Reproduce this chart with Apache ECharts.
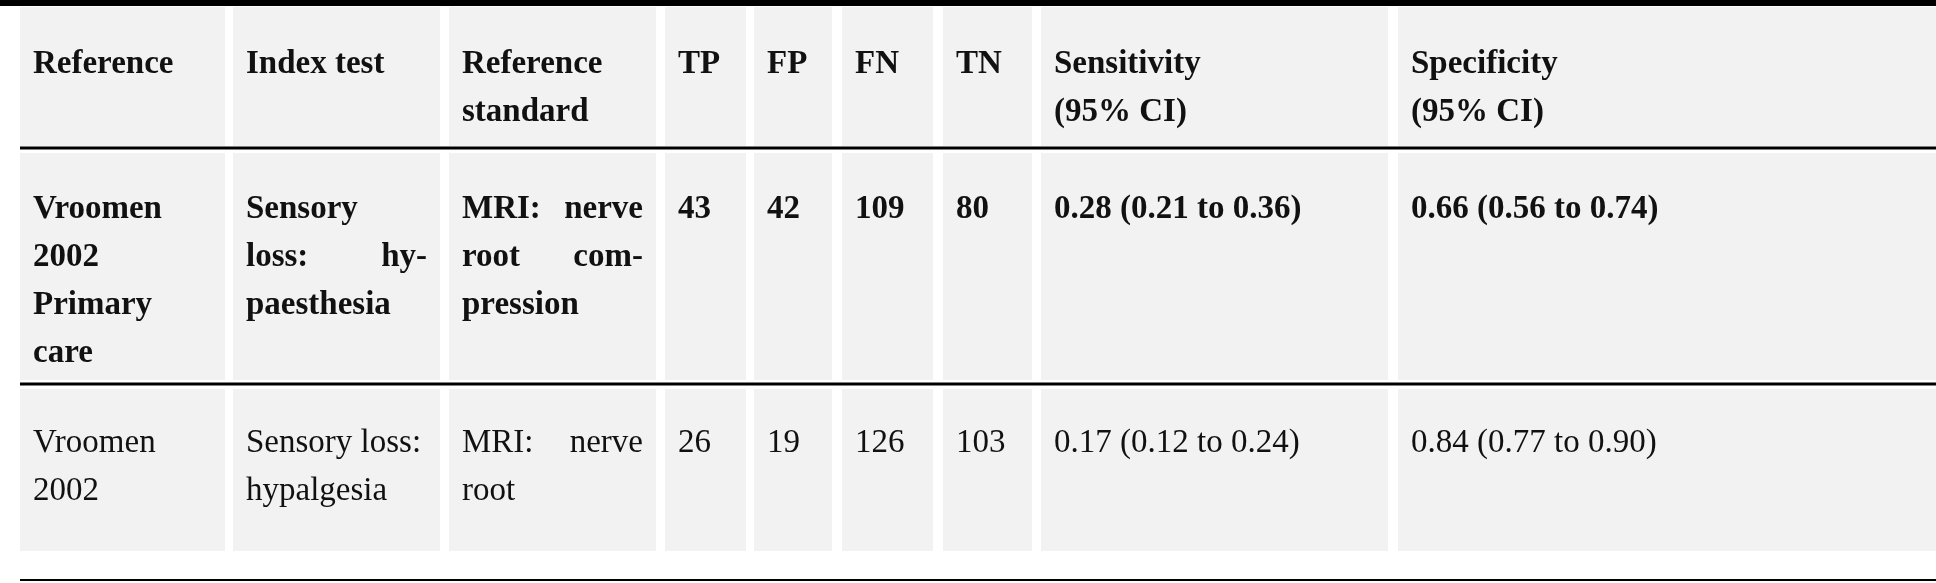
<!DOCTYPE html>
<html><head><meta charset="utf-8">
<script src="https://cdn.jsdelivr.net/npm/echarts@6/dist/echarts.min.js"></script>
<style>html,body{margin:0;padding:0;background:#fff}#c{width:1936px;height:583px}</style>
</head><body><div id="c"></div>
<script>
// ---- data ----
var headers = [["Reference"],["Index test"],["Reference","standard"],["TP"],["FP"],["FN"],["TN"],["Sensitivity","(95% CI)"],["Specificity","(95% CI)"]];
var row1 = [["Vroomen","2002","Primary","care"],["Sensory","loss:|hy-","paesthesia"],["MRI:|nerve","root|com-","pression"],["43"],["42"],["109"],["80"],["0.28 (0.21 to 0.36)"],["0.66 (0.56 to 0.74)"]];
var row2 = [["Vroomen","2002"],["Sensory loss:","hypalgesia"],["MRI:|nerve","root"],["26"],["19"],["126"],["103"],["0.17 (0.12 to 0.24)"],["0.84 (0.77 to 0.90)"]];
var rows = [headers, row1, row2];
var rowBold = [true, true, false];

// ---- layout ----
var colX = [[20,225],[233,440],[449,656],[665,746],[754,832],[842,933],[943,1032],[1041,1388],[1398,1936]];
var rowY = [[7,146],[153,380],[389,551]];
var rowFirstLine = [64,209,443];
var lineGap = 48;
var rules = [[0,1936,3,6],[20,1936,148,3],[20,1936,384,3],[20,1936,580,2]];
var pad = 13;

var cells=[], texts=[];
rows.forEach(function(r,ri){
  r.forEach(function(c,ci){
    cells.push([colX[ci][0],colX[ci][1],rowY[ri][0],rowY[ri][1]]);
    c.forEach(function(line,li){ texts.push([colX[ci][0]+pad, colX[ci][1]-pad, rowFirstLine[ri]+li*lineGap, line, rowBold[ri]?1:0]); });
  });
});
var font = '"Liberation Serif","DejaVu Serif",serif';
var chart = echarts.init(document.getElementById('c'));
chart.setOption({
  animation:false,
  grid:{left:0,right:0,top:0,bottom:0},
  xAxis:{type:'value',min:0,max:1936,show:false},
  yAxis:{type:'value',min:0,max:583,inverse:true,show:false},
  series:[
    {type:'custom',data:cells,renderItem:function(p,api){
      var a=api.coord([api.value(0),api.value(2)]),b=api.coord([api.value(1),api.value(3)]);
      return {type:'rect',shape:{x:a[0],y:a[1],width:b[0]-a[0],height:b[1]-a[1]},style:{fill:'#f2f2f2'}};
    }},
    {type:'custom',data:rules,renderItem:function(p,api){
      var a=api.coord([api.value(0),api.value(2)]),b=api.coord([api.value(1),api.value(2)]);
      return {type:'line',shape:{x1:a[0],y1:a[1],x2:b[0],y2:b[1]},style:{stroke:'#000',lineWidth:api.value(3)}};
    }},
    {type:'custom',data:texts.map(function(t){return [t[0],t[1],t[2],t[4]];}),renderItem:function(p,api){
      var t=texts[p.dataIndex];
      var a=api.coord([t[0],t[2]]),b=api.coord([t[1],t[2]]);
      var f=(t[4]?'bold ':'')+'33px '+font;
      var parts=t[3].split('|');
      if(parts.length===1) return {type:'text',style:{text:parts[0],x:a[0],y:a[1],font:f,fill:'#111',textVerticalAlign:'middle',textAlign:'left'}};
      return {type:'group',children:[
        {type:'text',style:{text:parts[0],x:a[0],y:a[1],font:f,fill:'#111',textVerticalAlign:'middle',textAlign:'left'}},
        {type:'text',style:{text:parts[1],x:b[0],y:b[1],font:f,fill:'#111',textVerticalAlign:'middle',textAlign:'right'}}
      ]};
    }}
  ]
});
</script></body></html>
